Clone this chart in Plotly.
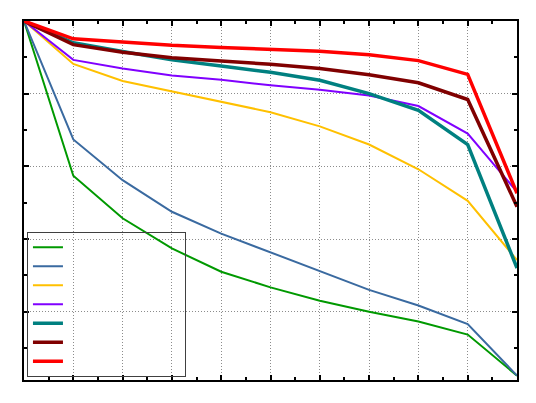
import plotly.graph_objects as go

x = list(range(11))

green = [100, 57.4, 45.7, 37.4, 31.0, 26.7, 23.0, 20.0, 17.3, 13.7, 2.4]
blue = [100, 67.4, 56.2, 47.5, 41.5, 36.3, 31.3, 26.0, 21.7, 16.6, 2.4]
yellow = [100, 88.2, 83.5, 80.6, 77.7, 74.9, 71.0, 66.0, 59.2, 50.5, 34.2]
purple = [100, 89.3, 86.9, 85.0, 83.8, 82.3, 81.1, 79.5, 76.6, 69.0, 53.0]
teal = [100, 94.0, 91.6, 89.3, 87.6, 85.9, 83.7, 80.0, 75.4, 66.0, 32.0]
darkred = [100, 93.5, 91.4, 89.9, 89.0, 88.1, 86.9, 85.2, 83.0, 78.4, 48.9]
red = [100, 95.1, 94.2, 93.3, 92.7, 92.3, 91.7, 90.7, 89.1, 85.3, 52.6]

series = [
    (green, "#009900", 2),
    (blue, "#3a6aa0", 2),
    (yellow, "#ffc000", 2),
    (purple, "#8000ff", 2),
    (teal, "#008080", 3.5),
    (darkred, "#800000", 3.5),
    (red, "#ff0000", 3.5),
]

# legend in the original has no labels, only the line samples
blank = "\u00a0" * 40

fig = go.Figure()
for vals, color, w in series:
    fig.add_trace(go.Scatter(x=x, y=vals, mode="lines", name=blank,
                             line=dict(color=color, width=w)))

axis_style = dict(
    showline=True, linecolor="black", linewidth=2, mirror="ticks",
    ticks="inside", ticklen=5, tickwidth=1.5, tickcolor="black",
    showticklabels=False, showgrid=True, gridcolor="#8c8c8c",
    gridwidth=1, griddash="1px,2px", zeroline=False,
)

fig.update_xaxes(range=[0, 10], dtick=1, tick0=0,
                 minor=dict(dtick=0.5, ticks="inside", ticklen=3,
                            tickcolor="black", showgrid=False),
                 **axis_style)
fig.update_yaxes(range=[1.2, 100], dtick=20, tick0=0,
                 minor=dict(dtick=10, ticks="inside", ticklen=3,
                            tickcolor="black", showgrid=False),
                 **axis_style)

fig.update_layout(
    width=536, height=403,
    margin=dict(l=24, r=18.5, t=21, b=23),
    plot_bgcolor="white", paper_bgcolor="white",
    legend=dict(x=0.006, y=0.009, xanchor="left", yanchor="bottom",
                bgcolor="rgba(255,255,255,0)", bordercolor="#404040",
                borderwidth=1, font=dict(family="Arial", size=10)),
)

fig.write_html("out.html", config={"displayModeBar": False},
               post_script="document.body.style.margin='0';")
